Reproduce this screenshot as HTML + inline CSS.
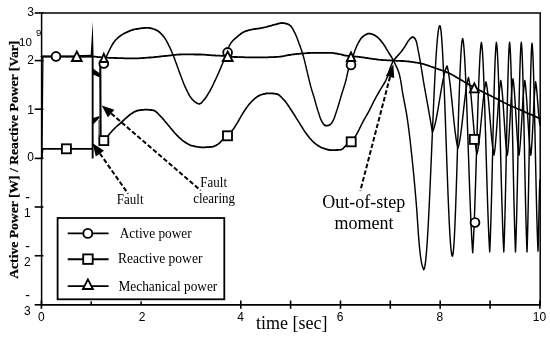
<!DOCTYPE html>
<html><head><meta charset="utf-8"><title>Power swing plot</title>
<style>html,body{margin:0;padding:0;background:#fff}svg{display:block}</style></head>
<body>
<svg width="550" height="338" viewBox="0 0 550 338">
<rect width="550" height="338" fill="#fff"/>
<g transform="scale(0.8,1)" fill="none" stroke="#000" stroke-width="1.8" stroke-linejoin="round" stroke-linecap="round">
<path d="M51.88,56.6 L53.38,56.6 L54.88,56.6 L56.38,56.6 L57.89,56.6 L59.39,56.6 L60.89,56.6 L62.39,56.6 L63.89,56.6 L65.39,56.6 L66.90,56.6 L68.40,56.6 L69.90,56.6 L71.40,56.6 L72.90,56.6 L74.40,56.6 L75.90,56.6 L77.40,56.6 L78.90,56.6 L80.40,56.6 L81.90,56.6 L83.40,56.6 L84.90,56.6 L86.40,56.6 L87.89,56.6 L89.39,56.6 L90.89,56.6 L92.39,56.6 L93.89,56.6 L95.39,56.6 L96.89,56.6 L98.38,56.6 L99.88,56.6 L101.38,56.6 L102.88,56.6 L104.38,56.6 L105.87,56.6 L107.37,56.6 L108.87,56.6 L110.36,56.6 L111.86,56.6 L113.36,56.6 L114.86,56.6 L116.35,56.6 L117.85,56.7 L119.34,56.7 L120.84,56.8 L122.33,57.0 L123.83,57.1 L125.32,57.2 L126.82,57.3 L128.31,57.4 L129.81,57.5 L131.30,57.6 L132.80,57.6 L134.30,57.7 L135.80,57.8 L137.30,57.8 L138.79,57.9 L140.29,57.9 L141.79,57.9 L143.29,58.0 L144.79,58.0 L146.29,58.1 L147.79,58.1 L149.29,58.1 L150.79,58.2 L152.28,58.2 L153.78,58.2 L155.28,58.3 L156.78,58.3 L158.28,58.3 L159.78,58.4 L161.28,58.4 L162.78,58.4 L164.28,58.4 L165.78,58.4 L167.28,58.4 L168.77,58.4 L170.27,58.3 L171.77,58.3 L173.27,58.3 L174.77,58.2 L176.27,58.1 L177.76,58.1 L179.26,58.0 L180.76,57.9 L182.26,57.8 L183.75,57.7 L185.25,57.6 L186.74,57.5 L188.24,57.5 L189.73,57.4 L191.23,57.3 L192.72,57.1 L194.21,57.0 L195.70,56.9 L197.19,56.8 L198.68,56.6 L200.17,56.5 L201.67,56.4 L203.16,56.2 L204.65,56.1 L206.14,56.0 L207.64,55.9 L209.13,55.8 L210.62,55.6 L212.11,55.5 L213.61,55.3 L215.10,55.2 L216.59,55.1 L218.08,54.9 L219.58,54.8 L221.07,54.7 L222.57,54.6 L224.06,54.5 L225.55,54.5 L227.05,54.4 L228.55,54.4 L230.04,54.4 L231.54,54.4 L233.04,54.4 L234.54,54.4 L236.04,54.4 L237.54,54.4 L239.04,54.4 L240.54,54.4 L242.04,54.4 L243.54,54.5 L245.04,54.5 L246.54,54.5 L248.04,54.5 L249.54,54.5 L251.04,54.5 L252.53,54.6 L254.03,54.6 L255.53,54.7 L257.02,54.8 L258.52,54.9 L260.01,55.0 L261.51,55.1 L263.01,55.2 L264.50,55.3 L266.00,55.4 L267.49,55.4 L268.99,55.5 L270.49,55.6 L271.99,55.6 L273.49,55.7 L274.99,55.7 L276.49,55.8 L277.99,55.8 L279.48,55.9 L280.98,55.9 L282.47,56.0 L283.96,56.1 L285.45,56.3 L286.94,56.5 L288.42,56.7 L289.91,56.8 L291.40,56.9 L292.89,57.0 L294.39,57.0 L295.88,57.0 L297.38,57.1 L298.88,57.1 L300.38,57.2 L301.88,57.2 L303.38,57.2 L304.88,57.2 L306.38,57.3 L307.88,57.3 L309.39,57.3 L310.89,57.3 L312.39,57.3 L313.89,57.3 L315.39,57.3 L316.88,57.3 L318.38,57.3 L319.88,57.3 L321.38,57.3 L322.88,57.3 L324.38,57.3 L325.88,57.3 L327.38,57.3 L328.88,57.3 L330.38,57.3 L331.88,57.3 L333.38,57.3 L334.88,57.3 L336.38,57.2 L337.88,57.2 L339.38,57.2 L340.88,57.1 L342.38,57.1 L343.88,57.0 L345.37,56.9 L346.86,56.9 L348.35,56.8 L349.84,56.6 L351.32,56.5 L352.80,56.3 L354.28,56.1 L355.76,55.9 L357.23,55.6 L358.71,55.4 L360.19,55.2 L361.67,55.0 L363.15,54.8 L364.63,54.6 L366.12,54.4 L367.61,54.3 L369.10,54.1 L370.59,54.0 L372.08,53.9 L373.57,53.8 L375.07,53.7 L376.56,53.6 L378.06,53.5 L379.55,53.4 L381.05,53.3 L382.54,53.2 L384.04,53.1 L385.54,53.0 L387.04,53.0 L388.54,52.9 L390.03,52.9 L391.53,52.8 L393.03,52.8 L394.53,52.8 L396.03,52.8 L397.53,52.8 L399.03,52.8 L400.54,52.8 L402.04,52.8 L403.54,52.8 L405.04,52.8 L406.54,52.8 L408.04,52.8 L409.54,52.8 L411.03,52.8 L412.52,52.8 L414.01,52.8 L415.50,52.9 L416.99,53.1 L418.47,53.3 L419.96,53.5 L421.44,53.7 L422.92,54.0 L424.39,54.2 L425.86,54.4 L427.33,54.7 L428.79,55.0 L430.25,55.3 L431.72,55.5 L433.20,55.6 L434.69,55.8 L436.18,56.0 L437.67,56.1 L439.16,56.2 L440.65,56.4 L442.14,56.5 L443.64,56.6 L445.14,56.7 L446.63,56.7 L448.12,56.9 L449.62,57.0 L451.10,57.1 L452.59,57.3 L454.07,57.4 L455.55,57.6 L457.04,57.8 L458.52,58.0 L460.00,58.2 L461.48,58.4 L462.96,58.6 L464.45,58.7 L465.93,58.9 L467.42,59.1 L468.91,59.2 L470.39,59.4 L471.88,59.5 L473.37,59.7 L474.86,59.8 L476.35,59.9 L477.85,60.0 L479.34,60.1 L480.84,60.1 L482.34,60.2 L483.83,60.3 L485.33,60.3 L486.83,60.4 L488.33,60.4 L489.83,60.5 L491.33,60.6 L492.82,60.6 L494.32,60.7 L495.82,60.8 L497.32,60.8 L498.82,60.9 L500.32,60.9 L501.82,61.0 L503.31,61.0 L504.81,61.1 L506.30,61.2 L507.80,61.3 L509.29,61.4 L510.79,61.5 L512.28,61.6 L513.78,61.8 L515.27,61.9 L516.77,62.1 L518.25,62.3 L519.73,62.5 L521.21,62.6 L522.68,62.8 L524.14,63.1 L525.60,63.3 L527.05,63.6 L528.49,63.9 L529.93,64.2 L531.36,64.6 L532.79,64.9 L534.22,65.3 L535.65,65.7 L537.07,66.1 L538.49,66.5 L539.91,66.9 L541.33,67.3 L542.75,67.7 L544.17,68.1 L545.59,68.5 L547.01,68.9 L548.44,69.3 L549.86,69.7 L551.29,70.1 L552.71,70.5 L554.12,70.9 L555.52,71.3 L556.92,71.7 L558.31,72.2 L559.68,72.6 L561.04,73.1 L562.39,73.6 L563.72,74.1 L565.05,74.7 L566.36,75.3 L567.67,75.9 L568.97,76.5 L570.27,77.1 L571.56,77.7 L572.85,78.3 L574.15,78.9 L575.44,79.5 L576.74,80.2 L578.04,80.7 L579.34,81.3 L580.64,82.0 L581.93,82.6 L583.22,83.2 L584.51,83.8 L585.81,84.4 L587.10,85.0 L588.40,85.6 L589.69,86.2 L591.00,86.8 L592.31,87.4 L593.62,87.9 L594.95,88.5 L596.27,89.1 L597.61,89.6 L598.95,90.1 L600.29,90.7 L601.63,91.2 L602.98,91.7 L604.33,92.3 L605.68,92.8 L607.04,93.3 L608.39,93.8 L609.74,94.3 L611.09,94.9 L612.44,95.4 L613.79,95.9 L615.13,96.5 L616.47,97.0 L617.81,97.5 L619.14,98.1 L620.48,98.6 L621.81,99.2 L623.14,99.7 L624.48,100.3 L625.81,100.8 L627.14,101.4 L628.48,101.9 L629.82,102.5 L631.16,103.0 L632.51,103.5 L633.86,104.0 L635.21,104.6 L636.57,105.1 L637.94,105.6 L639.30,106.1 L640.67,106.5 L642.04,107.0 L643.41,107.5 L644.78,108.0 L646.16,108.5 L647.53,109.0 L648.91,109.4 L650.29,109.9 L651.66,110.4 L653.04,110.9 L654.41,111.4 L655.78,111.8 L657.16,112.3 L658.53,112.8 L659.90,113.3 L661.27,113.8 L662.64,114.3 L664.02,114.7 L665.39,115.2 L666.76,115.7 L668.13,116.2 L669.51,116.7 L670.88,117.2 L672.25,117.6 L673.63,118.1 L675.00,118.6"/>
<path d="M129.75,62.0 L130.37,60.9 L130.99,59.8 L131.62,58.7 L132.26,57.6 L132.91,56.6 L133.57,55.5 L134.24,54.4 L134.91,53.3 L135.58,52.2 L136.24,51.1 L136.90,50.0 L137.57,48.9 L138.25,47.8 L138.94,46.7 L139.66,45.7 L140.40,44.6 L141.17,43.6 L141.97,42.6 L142.82,41.7 L143.71,40.8 L144.67,39.9 L145.70,39.1 L146.80,38.2 L147.95,37.4 L149.15,36.6 L150.37,35.9 L151.63,35.2 L152.89,34.5 L154.16,33.9 L155.44,33.4 L156.75,32.8 L158.10,32.3 L159.47,31.8 L160.88,31.3 L162.30,30.8 L163.73,30.4 L165.18,30.0 L166.63,29.7 L168.08,29.4 L169.53,29.2 L170.99,29.0 L172.46,28.8 L173.95,28.6 L175.45,28.4 L176.95,28.2 L178.46,28.1 L179.96,28.0 L181.46,27.9 L182.95,27.8 L184.43,27.8 L185.92,27.9 L187.43,28.0 L188.94,28.3 L190.44,28.6 L191.90,29.0 L193.32,29.4 L194.67,29.9 L195.95,30.3 L197.20,30.9 L198.42,31.6 L199.60,32.3 L200.74,33.2 L201.84,34.1 L202.89,35.0 L203.88,36.0 L204.80,36.9 L205.67,37.8 L206.50,38.8 L207.29,39.8 L208.06,40.8 L208.79,41.9 L209.51,43.0 L210.20,44.1 L210.87,45.2 L211.54,46.2 L212.19,47.3 L212.83,48.4 L213.45,49.5 L214.05,50.6 L214.63,51.7 L215.21,52.8 L215.77,53.9 L216.33,55.0 L216.88,56.2 L217.44,57.3 L217.98,58.4 L218.52,59.5 L219.05,60.6 L219.57,61.8 L220.08,62.9 L220.59,64.0 L221.10,65.1 L221.60,66.3 L222.11,67.4 L222.61,68.5 L223.12,69.7 L223.64,70.8 L224.16,71.9 L224.68,73.0 L225.22,74.2 L225.75,75.3 L226.27,76.4 L226.80,77.5 L227.33,78.7 L227.85,79.8 L228.39,80.9 L228.93,82.0 L229.48,83.2 L230.04,84.3 L230.62,85.4 L231.21,86.5 L231.82,87.6 L232.46,88.6 L233.10,89.7 L233.76,90.8 L234.44,91.9 L235.13,93.0 L235.85,94.1 L236.60,95.1 L237.38,96.2 L238.20,97.2 L239.06,98.1 L239.96,99.0 L240.96,99.9 L242.04,100.8 L243.20,101.6 L244.41,102.3 L245.66,102.9 L247.06,103.5 L248.51,103.9 L249.80,103.8 L251.04,103.2 L252.23,102.4 L253.35,101.4 L254.39,100.4 L255.36,99.5 L256.29,98.6 L257.18,97.6 L258.04,96.6 L258.86,95.6 L259.66,94.6 L260.44,93.5 L261.21,92.5 L261.96,91.5 L262.70,90.4 L263.42,89.4 L264.12,88.3 L264.80,87.2 L265.47,86.2 L266.13,85.1 L266.78,84.0 L267.43,82.9 L268.07,81.8 L268.70,80.7 L269.34,79.7 L269.98,78.6 L270.61,77.5 L271.23,76.4 L271.85,75.3 L272.47,74.2 L273.08,73.1 L273.69,72.0 L274.29,70.9 L274.88,69.8 L275.47,68.7 L276.06,67.6 L276.65,66.5 L277.22,65.4 L277.80,64.3 L278.37,63.2 L278.93,62.1 L279.49,61.0 L280.04,59.8 L280.60,58.7 L281.14,57.6 L281.69,56.5 L282.23,55.4 L282.77,54.2 L283.31,53.1 L283.84,52.0 L284.33,50.9 L284.81,49.7 L285.30,48.6 L285.82,47.4 L286.38,46.3 L287.02,45.3 L287.74,44.2 L288.55,43.2 L289.42,42.2 L290.34,41.3 L291.32,40.4 L292.40,39.6 L293.53,38.8 L294.70,38.0 L295.87,37.2 L297.02,36.4 L298.18,35.6 L299.34,34.9 L300.53,34.1 L301.74,33.4 L302.98,32.7 L304.25,32.1 L305.58,31.7 L306.96,31.2 L308.38,30.8 L309.83,30.5 L311.30,30.1 L312.76,29.8 L314.22,29.6 L315.68,29.4 L317.16,29.2 L318.64,29.0 L320.13,28.8 L321.62,28.6 L323.11,28.5 L324.60,28.3 L326.09,28.1 L327.56,27.9 L329.03,27.7 L330.49,27.4 L331.95,27.2 L333.40,26.9 L334.85,26.5 L336.30,26.2 L337.74,25.9 L339.19,25.6 L340.63,25.2 L342.08,24.9 L343.53,24.6 L344.97,24.3 L346.42,24.0 L347.87,23.7 L349.33,23.4 L350.81,23.1 L352.29,23.0 L353.79,23.1 L355.29,23.2 L356.76,23.5 L358.21,23.7 L359.68,24.2 L361.09,24.7 L362.32,25.3 L363.34,26.0 L364.28,26.9 L365.14,27.8 L365.95,28.9 L366.70,30.0 L367.42,31.2 L368.10,32.3 L368.77,33.3 L369.40,34.4 L370.00,35.5 L370.59,36.6 L371.15,37.7 L371.69,38.8 L372.22,40.0 L372.75,41.1 L373.26,42.2 L373.78,43.4 L374.29,44.5 L374.81,45.6 L375.32,46.7 L375.83,47.9 L376.33,49.0 L376.82,50.1 L377.30,51.3 L377.76,52.4 L378.21,53.6 L378.65,54.7 L379.06,55.9 L379.46,57.0 L379.85,58.2 L380.23,59.3 L380.60,60.5 L380.96,61.7 L381.31,62.8 L381.66,64.0 L382.01,65.2 L382.35,66.3 L382.69,67.5 L383.03,68.7 L383.37,69.8 L383.72,71.0 L384.07,72.2 L384.42,73.3 L384.78,74.5 L385.14,75.7 L385.49,76.8 L385.85,78.0 L386.20,79.2 L386.55,80.3 L386.90,81.5 L387.26,82.7 L387.63,83.8 L388.00,85.0 L388.38,86.2 L388.76,87.3 L389.17,88.5 L389.59,89.6 L390.03,90.8 L390.48,91.9 L390.93,93.1 L391.38,94.2 L391.82,95.4 L392.24,96.5 L392.66,97.7 L393.07,98.8 L393.48,100.0 L393.88,101.1 L394.28,102.3 L394.68,103.4 L395.08,104.6 L395.50,105.7 L395.91,106.9 L396.34,108.0 L396.78,109.2 L397.23,110.3 L397.69,111.5 L398.15,112.6 L398.60,113.8 L399.06,115.0 L399.53,116.2 L400.02,117.3 L400.55,118.4 L401.12,119.5 L401.74,120.6 L402.42,121.6 L403.22,122.7 L404.16,123.8 L405.23,124.8 L406.39,125.5 L407.64,125.7 L409.15,125.6 L410.70,125.3 L412.01,124.9 L413.23,124.2 L414.31,123.2 L415.18,122.3 L415.91,121.3 L416.58,120.3 L417.20,119.2 L417.76,118.1 L418.29,117.0 L418.79,115.8 L419.28,114.6 L419.75,113.4 L420.22,112.3 L420.70,111.1 L421.19,110.0 L421.66,108.8 L422.12,107.7 L422.56,106.6 L423.00,105.4 L423.42,104.3 L423.85,103.1 L424.27,101.9 L424.68,100.8 L425.10,99.6 L425.52,98.5 L425.94,97.3 L426.37,96.2 L426.80,95.0 L427.24,93.9 L427.69,92.7 L428.14,91.6 L428.60,90.5 L429.05,89.3 L429.50,88.2 L429.95,87.0 L430.39,85.9 L430.83,84.7 L431.25,83.6 L431.67,82.4 L432.07,81.3 L432.46,80.1 L432.83,78.9 L433.18,77.8 L433.50,76.6 L433.82,75.4 L434.13,74.3 L434.44,73.1 L434.76,71.9 L435.10,70.7 L435.46,69.6 L435.85,68.4 L436.28,67.3 L436.76,66.1 L437.29,65.0 L437.83,63.9 L438.38,62.8 L438.91,61.7 L439.42,60.5 L439.92,59.4 L440.41,58.2 L440.89,57.1 L441.37,55.9 L441.85,54.8 L442.34,53.6 L442.83,52.5 L443.33,51.4 L443.84,50.2 L444.37,49.1 L444.92,48.0 L445.49,46.9 L446.09,45.8 L446.72,44.7 L447.38,43.7 L448.07,42.6 L448.82,41.6 L449.63,40.5 L450.48,39.4 L451.39,38.4 L452.35,37.5 L453.38,36.7 L454.48,36.1 L455.73,35.3 L457.09,34.7 L458.52,34.1 L459.96,33.7 L461.38,33.6 L462.82,33.7 L464.31,34.0 L465.79,34.4 L467.23,34.9 L468.56,35.4 L469.78,36.0 L470.96,36.6 L472.10,37.4 L473.21,38.2 L474.28,39.1 L475.31,40.0 L476.31,41.0 L477.28,42.0 L478.22,42.9 L479.12,43.9 L479.98,44.9 L480.80,45.8 L481.59,46.9 L482.36,47.9 L483.12,49.0 L483.88,50.0 L484.65,51.0 L485.43,52.1 L486.24,53.1 L487.05,54.1 L487.86,55.1 L488.66,56.1 L489.45,57.1 L490.22,58.2 L490.96,59.2 L491.66,60.3 L492.34,61.3 L493.01,62.4 L493.68,63.5 L494.35,64.6 L495.00,65.7 L495.64,66.8 L496.26,67.9 L496.85,69.0 L497.41,70.1 L497.94,71.2 L498.42,72.4 L498.87,73.5 L499.26,74.6 L499.61,75.8 L499.94,76.9 L500.25,78.1 L500.55,79.3 L500.82,80.4 L501.08,81.6 L501.33,82.8 L501.58,84.0 L501.81,85.2 L502.04,86.4 L502.26,87.6 L502.49,88.8 L502.71,90.0 L502.95,91.1 L503.18,92.3 L503.43,93.5 L503.69,94.7 L503.95,95.9 L504.23,97.1 L504.51,98.3 L504.79,99.4 L505.07,100.6 L505.36,101.8 L505.65,103.0 L505.94,104.1 L506.23,105.3 L506.51,106.5 L506.80,107.7 L507.08,108.9 L507.35,110.0 L507.62,111.2 L507.88,112.4 L508.13,113.6 L508.37,114.8 L508.61,115.9 L508.83,117.1 L509.05,118.3 L509.26,119.5 L509.48,120.7 L509.68,121.9 L509.89,123.1 L510.10,124.2 L510.30,125.4 L510.50,126.6 L510.69,127.8 L510.89,129.0 L511.08,130.2 L511.27,131.4 L511.45,132.6 L511.64,133.8 L511.82,135.0 L512.00,136.1 L512.18,137.3 L512.36,138.5 L512.54,139.7 L512.71,140.9 L512.88,142.1 L513.05,143.3 L513.22,144.5 L513.39,145.7 L513.55,146.9 L513.72,148.1 L513.88,149.3 L514.04,150.5 L514.20,151.7 L514.37,152.8 L514.52,154.0 L514.68,155.2 L514.84,156.4 L515.00,157.6 L515.15,158.8 L515.31,160.0 L515.46,161.2 L515.62,162.4 L515.77,163.6 L515.92,164.8 L516.08,166.0 L516.23,167.2 L516.38,168.4 L516.52,169.6 L516.67,170.7 L516.82,171.9 L516.96,173.1 L517.11,174.3 L517.25,175.5 L517.39,176.7 L517.53,177.9 L517.67,179.1 L517.81,180.3 L517.94,181.5 L518.08,182.7 L518.22,183.9 L518.35,185.1 L518.48,186.3 L518.62,187.5 L518.75,188.7 L518.88,189.9 L519.01,191.1 L519.14,192.3 L519.27,193.4 L519.40,194.6 L519.52,195.8 L519.65,197.0 L519.77,198.2 L519.90,199.4 L520.03,200.6 L520.15,201.8 L520.27,203.0 L520.40,204.2 L520.52,205.4 L520.63,206.6 L520.75,207.8 L520.86,209.0 L520.97,210.2 L521.08,211.4 L521.19,212.6 L521.29,213.8 L521.39,215.0 L521.49,216.2 L521.59,217.4 L521.69,218.6 L521.79,219.8 L521.89,221.0 L521.99,222.2 L522.09,223.4 L522.19,224.6 L522.28,225.8 L522.38,227.0 L522.48,228.2 L522.59,229.3 L522.69,230.5 L522.80,231.7 L522.90,232.9 L523.01,234.1 L523.12,235.3 L523.24,236.5 L523.35,237.7 L523.47,238.9 L523.59,240.1 L523.72,241.3 L523.85,242.5 L523.98,243.7 L524.12,244.9 L524.26,246.1 L524.41,247.3 L524.56,248.5 L524.71,249.7 L524.87,250.9 L525.03,252.1 L525.19,253.3 L525.37,254.5 L525.55,255.7 L525.74,256.8 L525.95,258.0 L526.17,259.2 L526.41,260.4 L526.66,261.6 L526.93,262.8 L527.23,263.9 L527.58,265.1 L528.02,266.2 L528.52,267.3 L529.07,268.5 L529.62,269.6 L529.83,269.3 L530.04,269.1 L530.25,268.8 L530.45,268.4 L530.66,267.8 L530.87,267.1 L531.08,266.3 L531.28,265.3 L531.49,264.3 L531.70,263.1 L531.91,261.8 L532.11,260.3 L532.32,258.8 L532.53,257.1 L532.74,255.3 L532.94,253.4 L533.15,251.4 L533.36,249.3 L533.57,247.1 L533.77,244.7 L533.98,242.3 L534.19,239.8 L534.40,237.1 L534.60,234.4 L534.81,231.6 L535.02,228.7 L535.23,225.7 L535.43,222.7 L535.64,219.5 L535.85,216.3 L536.06,213.0 L536.26,209.6 L536.47,206.2 L536.68,202.7 L536.89,199.2 L537.09,195.6 L537.30,191.9 L537.51,188.2 L537.72,184.5 L537.92,180.7 L538.13,176.9 L538.34,173.1 L538.55,169.2 L538.75,165.3 L538.96,161.4 L539.17,157.5 L539.38,153.5 L539.58,149.6 L539.79,145.6 L540.00,141.7 L540.21,137.7 L540.41,133.8 L540.62,129.9 L540.83,126.0 L541.04,122.1 L541.24,118.3 L541.45,114.5 L541.66,110.7 L541.87,107.0 L542.07,103.3 L542.28,99.6 L542.49,96.0 L542.70,92.5 L542.90,89.0 L543.11,85.6 L543.32,82.2 L543.53,78.9 L543.73,75.7 L543.94,72.5 L544.15,69.5 L544.36,66.5 L544.56,63.6 L544.77,60.8 L544.98,58.1 L545.19,55.4 L545.39,52.9 L545.60,50.5 L545.81,48.1 L546.02,45.9 L546.22,43.8 L546.43,41.8 L546.64,39.9 L546.85,38.1 L547.05,36.4 L547.26,34.9 L547.47,33.4 L547.68,32.1 L547.88,30.9 L548.09,29.9 L548.30,28.9 L548.51,28.1 L548.71,27.4 L548.92,26.8 L549.13,26.4 L549.34,26.1 L549.54,25.9 L549.75,25.8 L549.92,25.9 L550.09,26.1 L550.26,26.4 L550.43,26.9 L550.61,27.5 L550.78,28.2 L550.95,29.1 L551.12,30.1 L551.29,31.2 L551.46,32.4 L551.63,33.8 L551.80,35.3 L551.98,37.0 L552.15,38.7 L552.32,40.6 L552.49,42.6 L552.66,44.7 L552.83,46.9 L553.00,49.2 L553.17,51.6 L553.35,54.1 L553.52,56.8 L553.69,59.5 L553.86,62.3 L554.03,65.3 L554.20,68.3 L554.37,71.4 L554.54,74.5 L554.71,77.8 L554.89,81.1 L555.06,84.5 L555.23,87.9 L555.40,91.5 L555.57,95.0 L555.74,98.7 L555.91,102.4 L556.08,106.1 L556.26,109.8 L556.43,113.6 L556.60,117.5 L556.77,121.3 L556.94,125.2 L557.11,129.1 L557.28,133.0 L557.45,137.0 L557.62,140.9 L557.80,144.8 L557.97,148.8 L558.14,152.7 L558.31,156.6 L558.48,160.5 L558.65,164.3 L558.82,168.2 L558.99,172.0 L559.17,175.7 L559.34,179.4 L559.51,183.1 L559.68,186.8 L559.85,190.3 L560.02,193.9 L560.19,197.3 L560.36,200.7 L560.54,204.0 L560.71,207.3 L560.88,210.4 L561.05,213.5 L561.22,216.5 L561.39,219.5 L561.56,222.3 L561.73,225.0 L561.90,227.7 L562.08,230.2 L562.25,232.6 L562.42,234.9 L562.59,237.1 L562.76,239.2 L562.93,241.2 L563.10,243.1 L563.27,244.8 L563.45,246.5 L563.62,248.0 L563.79,249.4 L563.96,250.6 L564.13,251.7 L564.30,252.7 L564.47,253.6 L564.64,254.3 L564.82,254.9 L564.99,255.4 L565.16,255.7 L565.33,255.9 L565.50,256.0 L565.65,255.9 L565.80,255.7 L565.95,255.3 L566.10,254.8 L566.25,254.2 L566.40,253.4 L566.55,252.5 L566.70,251.4 L566.85,250.2 L567.00,248.8 L567.15,247.3 L567.30,245.7 L567.45,244.0 L567.60,242.1 L567.75,240.1 L567.90,238.0 L568.05,235.7 L568.19,233.3 L568.34,230.9 L568.49,228.3 L568.64,225.6 L568.79,222.8 L568.94,219.9 L569.09,216.9 L569.24,213.8 L569.39,210.6 L569.54,207.3 L569.69,204.0 L569.84,200.5 L569.99,197.0 L570.14,193.5 L570.29,189.8 L570.44,186.2 L570.59,182.4 L570.74,178.7 L570.89,174.8 L571.04,171.0 L571.19,167.1 L571.34,163.2 L571.49,159.2 L571.64,155.3 L571.79,151.3 L571.94,147.4 L572.09,143.4 L572.24,139.4 L572.39,135.5 L572.54,131.5 L572.69,127.6 L572.84,123.7 L572.99,119.9 L573.14,116.0 L573.28,112.3 L573.43,108.5 L573.58,104.9 L573.73,101.2 L573.88,97.7 L574.03,94.2 L574.18,90.7 L574.33,87.4 L574.48,84.1 L574.63,80.9 L574.78,77.8 L574.93,74.8 L575.08,71.9 L575.23,69.1 L575.38,66.4 L575.53,63.8 L575.68,61.4 L575.83,59.0 L575.98,56.7 L576.13,54.6 L576.28,52.6 L576.43,50.7 L576.58,49.0 L576.73,47.4 L576.88,45.9 L577.03,44.5 L577.18,43.3 L577.33,42.2 L577.48,41.3 L577.63,40.5 L577.78,39.9 L577.93,39.4 L578.08,39.0 L578.23,38.8 L578.38,38.7 L578.52,39.1 L578.67,39.5 L578.82,40.1 L578.96,40.8 L579.11,41.5 L579.26,42.4 L579.40,43.4 L579.55,44.5 L579.70,45.7 L579.85,47.0 L579.99,48.4 L580.14,49.9 L580.29,51.5 L580.43,53.2 L580.58,55.0 L580.73,56.9 L580.88,58.8 L581.02,60.9 L581.17,63.0 L581.32,65.3 L581.46,67.6 L581.61,70.0 L581.76,72.5 L581.90,75.0 L582.05,77.6 L582.20,80.3 L582.35,83.1 L582.49,85.9 L582.64,88.8 L582.79,91.8 L582.93,94.8 L583.08,97.8 L583.23,101.0 L583.38,104.1 L583.52,107.3 L583.67,110.6 L583.82,113.8 L583.96,117.2 L584.11,120.5 L584.26,123.9 L584.40,127.3 L584.55,130.7 L584.70,134.1 L584.85,137.6 L584.99,141.0 L585.14,144.5 L585.29,148.0 L585.43,151.4 L585.58,154.9 L585.73,158.4 L585.88,161.8 L586.02,165.2 L586.17,168.7 L586.32,172.1 L586.46,175.4 L586.61,178.8 L586.76,182.1 L586.90,185.4 L587.05,188.7 L587.20,191.9 L587.35,195.0 L587.49,198.2 L587.64,201.3 L587.79,204.3 L587.93,207.3 L588.08,210.2 L588.23,213.1 L588.38,215.9 L588.52,218.6 L588.67,221.3 L588.82,223.9 L588.96,226.5 L589.11,228.9 L589.26,231.4 L589.40,233.7 L589.55,236.0 L589.70,238.1 L589.85,240.2 L589.99,242.3 L590.14,244.2 L590.29,246.1 L590.43,247.9 L590.58,249.6 L590.73,251.2 L590.88,252.7 L591.00,251.2 L591.13,249.6 L591.26,247.9 L591.39,246.1 L591.52,244.2 L591.65,242.3 L591.78,240.3 L591.91,238.2 L592.04,236.0 L592.17,233.8 L592.30,231.4 L592.43,229.0 L592.56,226.6 L592.69,224.0 L592.82,221.4 L592.95,218.7 L593.08,216.0 L593.21,213.2 L593.33,210.3 L593.46,207.4 L593.59,204.4 L593.72,201.4 L593.85,198.3 L593.98,195.2 L594.11,192.0 L594.24,188.8 L594.37,185.6 L594.50,182.3 L594.63,179.0 L594.76,175.6 L594.89,172.3 L595.02,168.9 L595.15,165.5 L595.28,162.1 L595.41,158.6 L595.54,155.2 L595.67,151.7 L595.79,148.3 L595.92,144.8 L596.05,141.4 L596.18,138.0 L596.31,134.5 L596.44,131.1 L596.57,127.7 L596.70,124.4 L596.83,121.0 L596.96,117.7 L597.09,114.5 L597.22,111.2 L597.35,108.0 L597.48,104.9 L597.61,101.8 L597.74,98.7 L597.87,95.7 L598.00,92.7 L598.12,89.8 L598.25,87.0 L598.38,84.2 L598.51,81.5 L598.64,78.9 L598.77,76.3 L598.90,73.9 L599.03,71.5 L599.16,69.1 L599.29,66.9 L599.42,64.7 L599.55,62.7 L599.68,60.7 L599.81,58.8 L599.94,57.0 L600.07,55.3 L600.20,53.7 L600.33,52.2 L600.46,50.8 L600.58,49.5 L600.71,48.3 L600.84,47.2 L600.97,46.2 L601.10,45.3 L601.23,44.6 L601.36,43.9 L601.49,43.3 L601.62,42.9 L601.75,42.5 L601.88,42.9 L602.00,43.3 L602.12,43.9 L602.25,44.6 L602.37,45.4 L602.50,46.3 L602.62,47.3 L602.75,48.4 L602.87,49.6 L603.00,50.9 L603.12,52.4 L603.25,53.9 L603.38,55.5 L603.50,57.3 L603.62,59.1 L603.75,61.0 L603.87,63.0 L604.00,65.1 L604.12,67.3 L604.25,69.6 L604.38,71.9 L604.50,74.4 L604.62,76.9 L604.75,79.5 L604.87,82.2 L605.00,84.9 L605.12,87.7 L605.25,90.6 L605.37,93.5 L605.50,96.5 L605.62,99.6 L605.75,102.7 L605.88,105.8 L606.00,109.0 L606.12,112.3 L606.25,115.6 L606.37,118.9 L606.50,122.2 L606.62,125.6 L606.75,129.0 L606.88,132.4 L607.00,135.9 L607.12,139.3 L607.25,142.8 L607.37,146.3 L607.50,149.7 L607.62,153.2 L607.75,156.7 L607.88,160.1 L608.00,163.6 L608.12,167.0 L608.25,170.5 L608.38,173.9 L608.50,177.2 L608.62,180.6 L608.75,183.9 L608.87,187.2 L609.00,190.4 L609.12,193.6 L609.25,196.8 L609.38,199.9 L609.50,203.0 L609.62,206.0 L609.75,208.9 L609.87,211.8 L610.00,214.7 L610.12,217.4 L610.25,220.2 L610.38,222.8 L610.50,225.4 L610.62,227.9 L610.75,230.3 L610.88,232.7 L611.00,234.9 L611.12,237.1 L611.25,239.3 L611.37,241.3 L611.50,243.3 L611.62,245.1 L611.75,246.9 L611.88,248.6 L612.00,250.3 L612.12,251.8 L612.23,250.3 L612.33,248.6 L612.43,246.9 L612.53,245.1 L612.63,243.3 L612.73,241.3 L612.83,239.3 L612.93,237.1 L613.03,234.9 L613.13,232.7 L613.23,230.3 L613.34,227.9 L613.44,225.4 L613.54,222.8 L613.64,220.2 L613.74,217.4 L613.84,214.7 L613.94,211.8 L614.04,208.9 L614.14,206.0 L614.24,203.0 L614.34,199.9 L614.45,196.8 L614.55,193.6 L614.65,190.4 L614.75,187.2 L614.85,183.9 L614.95,180.6 L615.05,177.2 L615.15,173.9 L615.25,170.5 L615.35,167.0 L615.45,163.6 L615.56,160.1 L615.66,156.7 L615.76,153.2 L615.86,149.7 L615.96,146.3 L616.06,142.8 L616.16,139.3 L616.26,135.9 L616.36,132.4 L616.46,129.0 L616.56,125.6 L616.67,122.2 L616.77,118.9 L616.87,115.6 L616.97,112.3 L617.07,109.0 L617.17,105.8 L617.27,102.7 L617.37,99.6 L617.47,96.5 L617.57,93.5 L617.67,90.6 L617.78,87.7 L617.88,84.9 L617.98,82.2 L618.08,79.5 L618.18,76.9 L618.28,74.4 L618.38,71.9 L618.48,69.6 L618.58,67.3 L618.68,65.1 L618.78,63.0 L618.89,61.0 L618.99,59.1 L619.09,57.3 L619.19,55.5 L619.29,53.9 L619.39,52.4 L619.49,50.9 L619.59,49.6 L619.69,48.4 L619.79,47.3 L619.89,46.3 L620.00,45.4 L620.10,44.6 L620.20,43.9 L620.30,43.3 L620.40,42.9 L620.50,42.5 L620.61,42.9 L620.72,43.3 L620.83,43.9 L620.95,44.6 L621.06,45.4 L621.17,46.3 L621.28,47.3 L621.39,48.4 L621.50,49.6 L621.61,50.9 L621.73,52.4 L621.84,53.9 L621.95,55.5 L622.06,57.3 L622.17,59.1 L622.28,61.0 L622.39,63.0 L622.51,65.1 L622.62,67.3 L622.73,69.6 L622.84,71.9 L622.95,74.4 L623.06,76.9 L623.17,79.5 L623.29,82.2 L623.40,84.9 L623.51,87.7 L623.62,90.6 L623.73,93.5 L623.84,96.5 L623.95,99.6 L624.07,102.7 L624.18,105.8 L624.29,109.0 L624.40,112.3 L624.51,115.6 L624.62,118.9 L624.73,122.2 L624.85,125.6 L624.96,129.0 L625.07,132.4 L625.18,135.9 L625.29,139.3 L625.40,142.8 L625.52,146.3 L625.63,149.7 L625.74,153.2 L625.85,156.7 L625.96,160.1 L626.07,163.6 L626.18,167.0 L626.30,170.5 L626.41,173.9 L626.52,177.2 L626.63,180.6 L626.74,183.9 L626.85,187.2 L626.96,190.4 L627.08,193.6 L627.19,196.8 L627.30,199.9 L627.41,203.0 L627.52,206.0 L627.63,208.9 L627.74,211.8 L627.86,214.7 L627.97,217.4 L628.08,220.2 L628.19,222.8 L628.30,225.4 L628.41,227.9 L628.52,230.3 L628.64,232.7 L628.75,234.9 L628.86,237.1 L628.97,239.3 L629.08,241.3 L629.19,243.3 L629.30,245.1 L629.42,246.9 L629.53,248.6 L629.64,250.3 L629.75,251.8 L629.84,250.3 L629.92,248.6 L630.01,246.9 L630.10,245.1 L630.19,243.3 L630.27,241.3 L630.36,239.3 L630.45,237.1 L630.54,234.9 L630.62,232.7 L630.71,230.3 L630.80,227.9 L630.89,225.4 L630.97,222.8 L631.06,220.2 L631.15,217.4 L631.23,214.7 L631.32,211.8 L631.41,208.9 L631.50,206.0 L631.58,203.0 L631.67,199.9 L631.76,196.8 L631.85,193.6 L631.93,190.4 L632.02,187.2 L632.11,183.9 L632.20,180.6 L632.28,177.2 L632.37,173.9 L632.46,170.5 L632.55,167.0 L632.63,163.6 L632.72,160.1 L632.81,156.7 L632.89,153.2 L632.98,149.7 L633.07,146.3 L633.16,142.8 L633.24,139.3 L633.33,135.9 L633.42,132.4 L633.51,129.0 L633.59,125.6 L633.68,122.2 L633.77,118.9 L633.86,115.6 L633.94,112.3 L634.03,109.0 L634.12,105.8 L634.20,102.7 L634.29,99.6 L634.38,96.5 L634.47,93.5 L634.55,90.6 L634.64,87.7 L634.73,84.9 L634.82,82.2 L634.90,79.5 L634.99,76.9 L635.08,74.4 L635.17,71.9 L635.25,69.6 L635.34,67.3 L635.43,65.1 L635.52,63.0 L635.60,61.0 L635.69,59.1 L635.78,57.3 L635.86,55.5 L635.95,53.9 L636.04,52.4 L636.13,50.9 L636.21,49.6 L636.30,48.4 L636.39,47.3 L636.48,46.3 L636.56,45.4 L636.65,44.6 L636.74,43.9 L636.83,43.3 L636.91,42.9 L637.00,42.5 L637.09,42.9 L637.18,43.3 L637.27,43.9 L637.36,44.6 L637.44,45.4 L637.53,46.3 L637.62,47.3 L637.71,48.4 L637.80,49.6 L637.89,50.9 L637.98,52.4 L638.07,53.9 L638.16,55.5 L638.24,57.3 L638.33,59.1 L638.42,61.0 L638.51,63.0 L638.60,65.1 L638.69,67.3 L638.78,69.6 L638.87,71.9 L638.95,74.4 L639.04,76.9 L639.13,79.5 L639.22,82.2 L639.31,84.9 L639.40,87.7 L639.49,90.6 L639.58,93.5 L639.67,96.5 L639.75,99.6 L639.84,102.7 L639.93,105.8 L640.02,109.0 L640.11,112.3 L640.20,115.6 L640.29,118.9 L640.38,122.2 L640.47,125.6 L640.55,129.0 L640.64,132.4 L640.73,135.9 L640.82,139.3 L640.91,142.8 L641.00,146.3 L641.09,149.7 L641.18,153.2 L641.27,156.7 L641.35,160.1 L641.44,163.6 L641.53,167.0 L641.62,170.5 L641.71,173.9 L641.80,177.2 L641.89,180.6 L641.98,183.9 L642.06,187.2 L642.15,190.4 L642.24,193.6 L642.33,196.8 L642.42,199.9 L642.51,203.0 L642.60,206.0 L642.69,208.9 L642.78,211.8 L642.86,214.7 L642.95,217.4 L643.04,220.2 L643.13,222.8 L643.22,225.4 L643.31,227.9 L643.40,230.3 L643.49,232.7 L643.58,234.9 L643.66,237.1 L643.75,239.3 L643.84,241.3 L643.93,243.3 L644.02,245.1 L644.11,246.9 L644.20,248.6 L644.29,250.3 L644.38,251.8 L644.46,250.3 L644.55,248.6 L644.64,246.9 L644.72,245.1 L644.81,243.3 L644.90,241.3 L644.99,239.3 L645.07,237.1 L645.16,234.9 L645.25,232.7 L645.34,230.3 L645.42,227.9 L645.51,225.4 L645.60,222.8 L645.69,220.2 L645.77,217.4 L645.86,214.7 L645.95,211.8 L646.03,208.9 L646.12,206.0 L646.21,203.0 L646.30,199.9 L646.38,196.8 L646.47,193.6 L646.56,190.4 L646.65,187.2 L646.73,183.9 L646.82,180.6 L646.91,177.2 L647.00,173.9 L647.08,170.5 L647.17,167.0 L647.26,163.6 L647.34,160.1 L647.43,156.7 L647.52,153.2 L647.61,149.7 L647.69,146.3 L647.78,142.8 L647.87,139.3 L647.96,135.9 L648.04,132.4 L648.13,129.0 L648.22,125.6 L648.31,122.2 L648.39,118.9 L648.48,115.6 L648.57,112.3 L648.66,109.0 L648.74,105.8 L648.83,102.7 L648.92,99.6 L649.00,96.5 L649.09,93.5 L649.18,90.6 L649.27,87.7 L649.35,84.9 L649.44,82.2 L649.53,79.5 L649.62,76.9 L649.70,74.4 L649.79,71.9 L649.88,69.6 L649.97,67.3 L650.05,65.1 L650.14,63.0 L650.23,61.0 L650.31,59.1 L650.40,57.3 L650.49,55.5 L650.58,53.9 L650.66,52.4 L650.75,50.9 L650.84,49.6 L650.93,48.4 L651.01,47.3 L651.10,46.3 L651.19,45.4 L651.28,44.6 L651.36,43.9 L651.45,43.3 L651.54,42.9 L651.62,42.5 L651.71,42.9 L651.80,43.3 L651.88,43.9 L651.97,44.6 L652.05,45.4 L652.14,46.3 L652.23,47.3 L652.31,48.4 L652.40,49.6 L652.48,50.9 L652.57,52.4 L652.66,53.9 L652.74,55.5 L652.83,57.3 L652.91,59.1 L653.00,61.0 L653.08,63.0 L653.17,65.1 L653.26,67.3 L653.34,69.6 L653.43,71.9 L653.51,74.4 L653.60,76.9 L653.69,79.5 L653.77,82.2 L653.86,84.9 L653.94,87.7 L654.03,90.6 L654.11,93.5 L654.20,96.5 L654.29,99.6 L654.37,102.7 L654.46,105.8 L654.54,109.0 L654.63,112.3 L654.72,115.6 L654.80,118.9 L654.89,122.2 L654.97,125.6 L655.06,129.0 L655.14,132.4 L655.23,135.9 L655.32,139.3 L655.40,142.8 L655.49,146.3 L655.57,149.7 L655.66,153.2 L655.75,156.7 L655.83,160.1 L655.92,163.6 L656.00,167.0 L656.09,170.5 L656.17,173.9 L656.26,177.2 L656.35,180.6 L656.43,183.9 L656.52,187.2 L656.60,190.4 L656.69,193.6 L656.78,196.8 L656.86,199.9 L656.95,203.0 L657.03,206.0 L657.12,208.9 L657.20,211.8 L657.29,214.7 L657.38,217.4 L657.46,220.2 L657.55,222.8 L657.63,225.4 L657.72,227.9 L657.81,230.3 L657.89,232.7 L657.98,234.9 L658.06,237.1 L658.15,239.3 L658.23,241.3 L658.32,243.3 L658.41,245.1 L658.49,246.9 L658.58,248.6 L658.66,250.3 L658.75,251.8 L658.83,250.3 L658.90,248.7 L658.98,247.0 L659.05,245.2 L659.13,243.3 L659.20,241.4 L659.28,239.3 L659.35,237.2 L659.43,235.0 L659.50,232.7 L659.58,230.4 L659.65,228.0 L659.73,225.5 L659.80,222.9 L659.88,220.3 L659.95,217.6 L660.03,214.8 L660.11,212.0 L660.18,209.1 L660.26,206.2 L660.33,203.2 L660.41,200.1 L660.48,197.0 L660.56,193.9 L660.63,190.7 L660.71,187.5 L660.78,184.2 L660.86,180.9 L660.93,177.5 L661.01,174.2 L661.08,170.8 L661.16,167.4 L661.23,164.0 L661.31,160.5 L661.39,157.1 L661.46,153.6 L661.54,150.2 L661.61,146.7 L661.69,143.3 L661.76,139.8 L661.84,136.4 L661.91,132.9 L661.99,129.5 L662.06,126.1 L662.14,122.8 L662.21,119.5 L662.29,116.1 L662.36,112.9 L662.44,109.7 L662.52,106.5 L662.59,103.3 L662.67,100.2 L662.74,97.2 L662.82,94.2 L662.89,91.3 L662.97,88.4 L663.04,85.6 L663.12,82.9 L663.19,80.2 L663.27,77.7 L663.34,75.1 L663.42,72.7 L663.49,70.4 L663.57,68.1 L663.64,65.9 L663.72,63.8 L663.80,61.8 L663.87,59.9 L663.95,58.1 L664.02,56.4 L664.10,54.7 L664.17,53.2 L664.25,51.8 L664.32,50.5 L664.40,49.3 L664.47,48.2 L664.55,47.2 L664.62,46.3 L664.70,45.5 L664.77,44.8 L664.85,44.2 L664.92,43.8 L665.00,43.4 L665.09,43.8 L665.18,44.2 L665.27,44.8 L665.36,45.5 L665.45,46.3 L665.54,47.1 L665.63,48.1 L665.72,49.3 L665.81,50.5 L665.90,51.8 L665.99,53.2 L666.08,54.7 L666.17,56.3 L666.27,58.0 L666.36,59.8 L666.45,61.7 L666.54,63.7 L666.63,65.8 L666.72,68.0 L666.81,70.3 L666.90,72.6 L666.99,75.0 L667.08,77.5 L667.17,80.1 L667.26,82.7 L667.35,85.5 L667.44,88.3 L667.53,91.1 L667.62,94.0 L667.71,97.0 L667.80,100.0 L667.89,103.1 L667.98,106.2 L668.07,109.4 L668.16,112.6 L668.25,115.9 L668.34,119.2 L668.43,122.5 L668.52,125.8 L668.61,129.2 L668.70,132.6 L668.80,136.0 L668.89,139.4 L668.98,142.9 L669.07,146.3 L669.16,149.8 L669.25,153.2 L669.34,156.7 L669.43,160.1 L669.52,163.5 L669.61,166.9 L669.70,170.3 L669.79,173.7 L669.88,177.0 L669.97,180.4 L670.06,183.6 L670.15,186.9 L670.24,190.1 L670.33,193.3 L670.42,196.4 L670.51,199.5 L670.60,202.6 L670.69,205.5 L670.78,208.5 L670.87,211.3 L670.96,214.2 L671.05,216.9 L671.14,219.6 L671.23,222.2 L671.33,224.8 L671.42,227.3 L671.51,229.7 L671.60,232.0 L671.69,234.3 L671.78,236.5 L671.87,238.6 L671.96,240.6 L672.05,242.5 L672.14,244.4 L672.23,246.2 L672.32,247.9 L672.41,249.5 L672.50,251.0 L672.59,249.4 L672.68,247.5 L672.77,245.4 L672.86,243.0 L672.95,240.4 L673.04,237.6 L673.12,234.7 L673.21,231.6 L673.30,228.3 L673.39,225.0 L673.48,221.5 L673.57,218.1 L673.66,214.6 L673.75,211.1 L673.84,207.7 L673.93,204.3 L674.02,201.1 L674.11,198.0 L674.20,195.0 L674.29,192.3 L674.38,189.8 L674.46,187.5 L674.55,185.5 L674.64,183.8 L674.73,182.4 L674.82,181.3 L674.91,180.5 L675.00,180.0"/>
<path d="M135.75,135.0 L136.71,134.1 L137.68,133.2 L138.67,132.3 L139.67,131.4 L140.69,130.5 L141.73,129.6 L142.78,128.8 L143.85,127.9 L144.95,127.1 L146.07,126.3 L147.20,125.5 L148.32,124.8 L149.45,124.0 L150.56,123.2 L151.66,122.3 L152.76,121.5 L153.85,120.7 L154.95,119.9 L156.06,119.1 L157.18,118.3 L158.29,117.5 L159.41,116.7 L160.55,115.9 L161.71,115.1 L162.90,114.4 L164.14,113.8 L165.42,113.1 L166.73,112.4 L168.07,111.8 L169.43,111.3 L170.81,110.8 L172.21,110.5 L173.63,110.3 L175.09,110.1 L176.58,110.0 L178.09,109.9 L179.61,109.8 L181.12,109.7 L182.62,109.7 L184.15,109.7 L185.70,109.8 L187.25,109.9 L188.76,110.0 L190.22,110.2 L191.59,110.4 L192.87,110.7 L194.11,111.2 L195.30,111.9 L196.45,112.7 L197.57,113.6 L198.67,114.6 L199.75,115.5 L200.81,116.4 L201.87,117.3 L202.89,118.2 L203.90,119.0 L204.88,119.9 L205.85,120.9 L206.81,121.8 L207.77,122.7 L208.72,123.6 L209.68,124.6 L210.65,125.5 L211.62,126.4 L212.58,127.3 L213.53,128.3 L214.48,129.2 L215.43,130.1 L216.39,131.0 L217.36,132.0 L218.34,132.9 L219.35,133.7 L220.37,134.6 L221.42,135.5 L222.48,136.3 L223.56,137.2 L224.65,138.0 L225.77,138.8 L226.90,139.6 L228.06,140.4 L229.24,141.1 L230.45,141.7 L231.69,142.4 L232.97,143.1 L234.28,143.7 L235.61,144.3 L236.97,144.9 L238.34,145.3 L239.73,145.6 L241.14,145.9 L242.59,146.2 L244.06,146.5 L245.55,146.7 L247.05,146.9 L248.55,147.1 L250.06,147.2 L251.56,147.3 L253.05,147.3 L254.55,147.3 L256.07,147.3 L257.59,147.2 L259.10,147.2 L260.61,147.1 L262.11,147.0 L263.58,146.9 L265.02,146.8 L266.45,146.6 L267.88,146.2 L269.30,145.7 L270.66,145.1 L271.97,144.5 L273.18,143.8 L274.29,143.1 L275.33,142.2 L276.34,141.3 L277.37,140.4 L278.46,139.6 L279.62,138.8 L280.82,138.1 L282.03,137.4 L283.21,136.6 L284.33,135.8 L285.39,135.0 L286.43,134.1 L287.45,133.3 L288.44,132.3 L289.40,131.4 L290.33,130.5 L291.23,129.5 L292.10,128.6 L292.95,127.6 L293.77,126.6 L294.58,125.6 L295.36,124.5 L296.14,123.5 L296.91,122.5 L297.68,121.4 L298.44,120.4 L299.19,119.4 L299.92,118.3 L300.64,117.3 L301.36,116.2 L302.10,115.2 L302.88,114.2 L303.68,113.1 L304.49,112.1 L305.31,111.1 L306.14,110.1 L306.99,109.1 L307.85,108.1 L308.73,107.1 L309.63,106.1 L310.54,105.2 L311.48,104.2 L312.45,103.3 L313.44,102.5 L314.46,101.6 L315.52,100.8 L316.62,100.0 L317.76,99.1 L318.94,98.3 L320.16,97.5 L321.40,96.8 L322.68,96.1 L323.97,95.6 L325.29,95.1 L326.63,94.7 L328.02,94.4 L329.47,94.0 L330.96,93.8 L332.46,93.5 L333.98,93.4 L335.48,93.3 L336.98,93.3 L338.51,93.4 L340.07,93.4 L341.60,93.5 L343.10,93.6 L344.53,93.8 L345.88,94.0 L347.17,94.3 L348.42,94.9 L349.64,95.6 L350.83,96.5 L351.97,97.4 L353.07,98.3 L354.14,99.3 L355.15,100.1 L356.13,101.0 L357.07,101.9 L357.98,102.9 L358.86,103.8 L359.71,104.8 L360.55,105.8 L361.38,106.8 L362.20,107.9 L363.02,108.9 L363.84,109.9 L364.67,110.9 L365.50,111.9 L366.31,112.9 L367.12,113.9 L367.93,114.9 L368.72,115.9 L369.52,117.0 L370.31,118.0 L371.10,119.0 L371.89,120.0 L372.69,121.0 L373.49,122.0 L374.29,123.0 L375.10,124.1 L375.91,125.1 L376.70,126.1 L377.50,127.1 L378.29,128.1 L379.09,129.2 L379.90,130.2 L380.72,131.2 L381.55,132.2 L382.40,133.1 L383.28,134.1 L384.18,135.1 L385.10,136.0 L386.04,136.9 L386.99,137.9 L387.97,138.8 L388.97,139.7 L390.00,140.6 L391.05,141.5 L392.13,142.3 L393.24,143.1 L394.38,143.8 L395.58,144.5 L396.82,145.2 L398.10,145.9 L399.41,146.5 L400.75,147.1 L402.10,147.6 L403.46,148.0 L404.85,148.4 L406.27,148.8 L407.72,149.2 L409.19,149.5 L410.67,149.8 L412.16,150.0 L413.65,150.2 L415.13,150.2 L416.64,150.2 L418.19,150.2 L419.76,150.1 L421.32,150.0 L422.85,149.9 L424.32,149.8 L425.72,149.7 L427.02,149.5 L428.20,149.0 L429.31,148.2 L430.39,147.2 L431.48,146.3 L432.63,145.4 L433.85,144.7 L435.13,144.1 L436.41,143.4 L437.64,142.7 L438.77,142.0 L439.78,141.1 L440.74,140.3 L441.65,139.3 L442.52,138.3 L443.36,137.3 L444.17,136.3 L444.96,135.2 L445.73,134.2 L446.49,133.2 L447.22,132.1 L447.92,131.1 L448.61,130.0 L449.27,128.9 L449.93,127.8 L450.59,126.8 L451.24,125.7 L451.90,124.6 L452.57,123.5 L453.25,122.5 L453.95,121.4 L454.67,120.4 L455.40,119.3 L456.14,118.3 L456.88,117.2 L457.63,116.2 L458.37,115.1 L459.12,114.1 L459.85,113.1 L460.57,112.0 L461.28,111.0 L461.98,109.9 L462.66,108.8 L463.33,107.8 L464.00,106.7 L464.66,105.6 L465.31,104.5 L465.97,103.4 L466.64,102.4 L467.31,101.3 L467.99,100.2 L468.68,99.2 L469.38,98.1 L470.10,97.1 L470.83,96.0 L471.57,95.0 L472.32,93.9 L473.07,92.9 L473.83,91.9 L474.59,90.8 L475.34,89.8 L476.10,88.8 L476.85,87.7 L477.62,86.7 L478.42,85.7 L479.23,84.7 L480.03,83.6 L480.80,82.6 L481.53,81.6 L482.21,80.5 L482.81,79.4 L483.36,78.3 L483.87,77.2 L484.35,76.1 L484.81,74.9 L485.26,73.8 L485.73,72.6 L486.20,71.5 L486.71,70.3 L487.24,69.2 L487.77,68.1 L488.29,67.0 L488.83,65.8 L489.39,64.7 L489.97,63.6 L490.60,62.5 L491.27,61.4 L492.00,60.4 L492.86,59.5 L493.84,58.6 L494.88,57.7 L495.92,56.8 L496.91,55.9 L497.92,55.0 L498.94,54.1 L499.95,53.2 L500.91,52.3 L501.83,51.4 L502.72,50.4 L503.59,49.5 L504.43,48.5 L505.26,47.5 L506.09,46.5 L506.91,45.5 L507.72,44.4 L508.48,43.4 L509.23,42.3 L510.02,41.3 L510.88,40.3 L511.87,39.4 L513.02,38.5 L514.26,37.6 L515.49,37.1 L516.67,37.1 L517.93,37.9 L519.00,39.0 L519.65,40.0 L520.16,41.0 L520.60,42.1 L520.98,43.2 L521.31,44.5 L521.61,45.7 L521.90,46.9 L522.18,48.2 L522.46,49.4 L522.77,50.5 L523.07,51.7 L523.36,52.9 L523.64,54.1 L523.92,55.2 L524.19,56.4 L524.45,57.6 L524.71,58.8 L524.97,60.0 L525.22,61.1 L525.47,62.3 L525.72,63.5 L525.97,64.7 L526.22,65.9 L526.47,67.1 L526.72,68.2 L526.96,69.4 L527.20,70.6 L527.44,71.8 L527.68,73.0 L527.91,74.2 L528.15,75.3 L528.38,76.5 L528.62,77.7 L528.86,78.9 L529.10,80.1 L529.34,81.3 L529.59,82.4 L529.84,83.6 L530.10,84.8 L530.36,86.0 L530.61,87.2 L530.88,88.3 L531.14,89.5 L531.40,90.7 L531.67,91.9 L531.93,93.1 L532.20,94.2 L532.47,95.4 L532.73,96.6 L533.00,97.8 L533.27,98.9 L533.54,100.1 L533.80,101.3 L534.07,102.5 L534.34,103.7 L534.60,104.8 L534.87,106.0 L535.13,107.2 L535.39,108.4 L535.65,109.6 L535.91,110.7 L536.17,111.9 L536.43,113.1 L536.69,114.3 L536.94,115.5 L537.20,116.6 L537.46,117.8 L537.71,119.0 L537.97,120.2 L538.22,121.4 L538.48,122.6 L538.73,123.7 L538.99,124.9 L539.24,126.1 L539.49,127.3 L539.74,128.5 L540.00,129.6 L540.25,130.8 L540.50,132.0 L541.20,130.8 L541.90,129.4 L542.61,127.7 L543.31,125.7 L544.01,123.4 L544.71,120.9 L545.41,118.2 L546.12,115.3 L546.82,112.3 L547.52,109.1 L548.22,105.8 L548.92,102.4 L549.62,99.0 L550.33,95.6 L551.03,92.2 L551.73,88.9 L552.43,85.7 L553.13,82.7 L553.84,79.8 L554.54,77.1 L555.24,74.6 L555.94,72.3 L556.64,70.3 L557.35,68.6 L558.05,67.2 L558.75,66.0 L559.18,67.1 L559.61,68.5 L560.04,70.1 L560.47,72.0 L560.90,74.0 L561.33,76.3 L561.76,78.8 L562.19,81.4 L562.62,84.2 L563.05,87.2 L563.48,90.3 L563.91,93.5 L564.34,96.8 L564.77,100.2 L565.20,103.6 L565.62,107.0 L566.05,110.4 L566.48,113.8 L566.91,117.2 L567.34,120.5 L567.77,123.7 L568.20,126.8 L568.63,129.8 L569.06,132.6 L569.49,135.2 L569.92,137.7 L570.35,140.0 L570.78,142.0 L571.21,143.9 L571.64,145.5 L572.07,146.9 L572.50,148.0 L572.97,146.9 L573.44,145.5 L573.91,143.8 L574.38,141.9 L574.84,139.7 L575.31,137.4 L575.78,134.8 L576.25,132.0 L576.72,129.1 L577.19,126.0 L577.66,122.8 L578.12,119.6 L578.59,116.2 L579.06,112.9 L579.53,109.5 L580.00,106.1 L580.47,102.9 L580.94,99.7 L581.41,96.6 L581.88,93.7 L582.34,90.9 L582.81,88.3 L583.28,86.0 L583.75,83.8 L584.22,81.9 L584.69,80.2 L585.16,78.8 L585.62,77.7 L585.98,78.8 L586.33,80.2 L586.69,81.9 L587.04,83.7 L587.40,85.8 L587.75,88.1 L588.10,90.6 L588.46,93.4 L588.81,96.2 L589.17,99.2 L589.52,102.4 L589.87,105.6 L590.23,108.9 L590.58,112.3 L590.94,115.7 L591.29,119.1 L591.65,122.5 L592.00,125.8 L592.35,129.0 L592.71,132.2 L593.06,135.2 L593.42,138.0 L593.77,140.8 L594.12,143.3 L594.48,145.6 L594.83,147.7 L595.19,149.5 L595.54,151.2 L595.90,152.6 L596.25,153.7 L596.65,152.5 L597.05,151.1 L597.46,149.4 L597.86,147.5 L598.26,145.3 L598.66,142.9 L599.06,140.2 L599.46,137.4 L599.87,134.4 L600.27,131.3 L600.67,128.0 L601.07,124.7 L601.47,121.3 L601.88,117.8 L602.28,114.4 L602.68,111.0 L603.08,107.7 L603.48,104.4 L603.88,101.3 L604.29,98.3 L604.69,95.5 L605.09,92.8 L605.49,90.4 L605.89,88.2 L606.29,86.3 L606.70,84.6 L607.10,83.2 L607.50,82.0 L607.84,83.1 L608.19,84.5 L608.53,86.2 L608.88,88.1 L609.22,90.2 L609.57,92.5 L609.91,95.0 L610.26,97.8 L610.60,100.7 L610.95,103.7 L611.29,106.9 L611.64,110.1 L611.98,113.4 L612.33,116.8 L612.67,120.2 L613.02,123.6 L613.36,126.9 L613.71,130.1 L614.05,133.3 L614.40,136.3 L614.74,139.2 L615.09,142.0 L615.43,144.5 L615.78,146.8 L616.12,148.9 L616.47,150.8 L616.81,152.5 L617.16,153.9 L617.50,155.0 L617.79,153.8 L618.09,152.4 L618.38,150.8 L618.67,148.8 L618.97,146.7 L619.26,144.3 L619.55,141.7 L619.84,138.9 L620.14,136.0 L620.43,132.9 L620.72,129.7 L621.02,126.3 L621.31,123.0 L621.60,119.5 L621.90,116.1 L622.19,112.6 L622.48,109.3 L622.78,105.9 L623.07,102.7 L623.36,99.6 L623.66,96.7 L623.95,93.9 L624.24,91.3 L624.53,88.9 L624.83,86.8 L625.12,84.8 L625.41,83.2 L625.71,81.8 L626.00,80.6 L626.28,81.8 L626.56,83.2 L626.84,84.8 L627.12,86.8 L627.40,88.9 L627.68,91.3 L627.96,93.9 L628.24,96.7 L628.52,99.6 L628.80,102.7 L629.08,105.9 L629.36,109.3 L629.64,112.6 L629.92,116.1 L630.20,119.5 L630.48,123.0 L630.76,126.3 L631.04,129.7 L631.32,132.9 L631.60,136.0 L631.88,138.9 L632.16,141.7 L632.44,144.3 L632.72,146.7 L633.00,148.8 L633.28,150.8 L633.56,152.4 L633.84,153.8 L634.12,155.0 L634.36,153.9 L634.60,152.5 L634.84,150.8 L635.07,149.0 L635.31,146.9 L635.55,144.6 L635.79,142.1 L636.02,139.3 L636.26,136.5 L636.50,133.5 L636.74,130.3 L636.97,127.1 L637.21,123.8 L637.45,120.4 L637.69,117.0 L637.92,113.6 L638.16,110.2 L638.40,106.9 L638.64,103.7 L638.88,100.5 L639.11,97.5 L639.35,94.7 L639.59,91.9 L639.82,89.4 L640.06,87.1 L640.30,85.0 L640.54,83.2 L640.77,81.5 L641.01,80.1 L641.25,79.0 L641.50,80.1 L641.75,81.5 L642.00,83.2 L642.25,85.0 L642.50,87.1 L642.75,89.4 L643.00,91.9 L643.25,94.7 L643.50,97.5 L643.75,100.5 L644.00,103.7 L644.25,106.9 L644.50,110.2 L644.75,113.6 L645.00,117.0 L645.25,120.4 L645.50,123.8 L645.75,127.1 L646.00,130.3 L646.25,133.5 L646.50,136.5 L646.75,139.3 L647.00,142.1 L647.25,144.6 L647.50,146.9 L647.75,149.0 L648.00,150.8 L648.25,152.5 L648.50,153.9 L648.75,155.0 L649.00,153.8 L649.25,152.4 L649.50,150.8 L649.75,148.8 L650.00,146.7 L650.25,144.3 L650.50,141.7 L650.75,138.9 L651.00,136.0 L651.25,132.9 L651.50,129.7 L651.75,126.3 L652.00,123.0 L652.25,119.5 L652.50,116.1 L652.75,112.6 L653.00,109.3 L653.25,105.9 L653.50,102.7 L653.75,99.6 L654.00,96.7 L654.25,93.9 L654.50,91.3 L654.75,88.9 L655.00,86.8 L655.25,84.8 L655.50,83.2 L655.75,81.8 L656.00,80.6 L656.26,81.8 L656.52,83.2 L656.78,84.8 L657.03,86.8 L657.29,88.9 L657.55,91.3 L657.81,93.9 L658.07,96.7 L658.33,99.6 L658.59,102.7 L658.84,105.9 L659.10,109.3 L659.36,112.6 L659.62,116.1 L659.88,119.5 L660.14,123.0 L660.40,126.3 L660.66,129.7 L660.91,132.9 L661.17,136.0 L661.43,138.9 L661.69,141.7 L661.95,144.3 L662.21,146.7 L662.47,148.8 L662.72,150.8 L662.98,152.4 L663.24,153.8 L663.50,155.0 L663.71,153.9 L663.91,152.5 L664.12,150.8 L664.33,148.9 L664.53,146.8 L664.74,144.5 L664.95,142.0 L665.16,139.2 L665.36,136.3 L665.57,133.3 L665.78,130.1 L665.98,126.9 L666.19,123.6 L666.40,120.2 L666.60,116.8 L666.81,113.4 L667.02,110.1 L667.22,106.9 L667.43,103.7 L667.64,100.7 L667.84,97.8 L668.05,95.0 L668.26,92.5 L668.47,90.2 L668.67,88.1 L668.88,86.2 L669.09,84.5 L669.29,83.1 L669.50,82.0 L669.82,83.2 L670.15,84.9 L670.47,87.0 L670.79,89.4 L671.12,92.2 L671.44,95.2 L671.76,98.5 L672.09,101.8 L672.41,105.2 L672.74,108.5 L673.06,111.8 L673.38,114.8 L673.71,117.6 L674.03,120.0 L674.35,122.1 L674.68,123.8 L675.00,125.0"/>
</g>
<g fill="none" stroke="#000" stroke-width="1.7" stroke-linejoin="round" stroke-linecap="round">
<path d="M41.5,56.3 L91.5,56.3"/>
<path d="M76,56.0 L91.5,55.6" stroke-width="1.6"/>
<path d="M41.7,158.2 L42.6,148.9 L92,148.9"/>
<path d="M41.9,158 L42.9,56.5" stroke-width="1.3"/>
</g>
<polygon points="90.6,56 92.7,21.5 93.6,56 93.6,158.6 91.7,158.6 91.7,56" fill="#000"/>
<path d="M100.3,66 L100.6,136" stroke="#000" stroke-width="2.1" fill="none"/>
<polygon points="93,68.5 100,73.5 100,77.5 93,74.5" fill="#000"/>
<polygon points="93,118 99.5,116 99.5,118 93,124.5" fill="#000"/>
<path d="M99,120 L99,135" stroke="#000" stroke-width="0.8" fill="none"/>
<g fill="#fff" stroke="#000" stroke-width="1.85" stroke-linejoin="miter">
<circle cx="56" cy="56.4" r="4.4"/>
<circle cx="103.8" cy="63.4" r="4.4"/>
<circle cx="227.6" cy="52.4" r="4.4"/>
<circle cx="351" cy="64.9" r="4.4"/>
<circle cx="475" cy="222.5" r="4.4"/>
<rect x="61.9" y="144.3" width="9.0" height="9.0"/>
<rect x="99.3" y="136.1" width="9.0" height="9.0"/>
<rect x="223.0" y="131.3" width="9.0" height="9.0"/>
<rect x="346.7" y="137.3" width="9.0" height="9.0"/>
<rect x="469.8" y="134.9" width="9.0" height="9.0"/>
<polygon points="76.8,51.6 71.9,61.0 81.7,61.0"/>
<polygon points="103.8,53.8 100.3,62.0 107.3,62.0"/>
<polygon points="227.7,51.6 222.8,61.0 232.6,61.0"/>
<polygon points="351.0,52.3 346.8,61.0 355.2,61.0"/>
<polygon points="474.3,83.3 469.9,92.3 478.7,92.3"/>
</g>
<polygon fill="#000" stroke="none" points="101.7,105.4 107.9,117.3 114.4,109.8"/><line x1="111.2" y1="113.6" x2="200.5" y2="190.4" stroke="#000" stroke-width="2" stroke-dasharray="4.6,2.3"/>
<polygon fill="#000" stroke="none" points="92.7,143.3 95.8,156.4 104.0,150.7"/><line x1="99.9" y1="153.5" x2="128.0" y2="193.6" stroke="#000" stroke-width="2" stroke-dasharray="4.6,2.3"/>
<polygon fill="#000" stroke="none" points="393.3,64.3 385.9,75.8 394.2,78.0"/><line x1="390.0" y1="76.9" x2="360.3" y2="190.9" stroke="#000" stroke-width="2" stroke-dasharray="4.6,2.3"/>
<g stroke="#000" fill="none">
<path d="M41.6,12.3 L41.6,305.6" stroke-width="1.5"/>
<path d="M41,13 L541,13" stroke-width="1.7"/>
<path d="M540.2,13 L540.2,305" stroke-width="1.5"/>
<path d="M41,304.8 L541,304.8" stroke-width="1.7"/>
<path d="M41.4,300.5 L41.4,308.8" stroke-width="1.6"/>
<path d="M91.2,301.2 L91.2,304" stroke-width="1.5"/>
<path d="M141.1,301.2 L141.1,304" stroke-width="1.5"/>
<path d="M240.8,300.5 L240.8,308.8" stroke-width="1.6"/>
<path d="M290.6,300.5 L290.6,308.8" stroke-width="1.6"/>
<path d="M340.5,300.5 L340.5,308.8" stroke-width="1.6"/>
<path d="M390.3,300.5 L390.3,308.8" stroke-width="1.6"/>
<path d="M440.2,300.5 L440.2,308.8" stroke-width="1.6"/>
<path d="M490.1,300.5 L490.1,308.8" stroke-width="1.6"/>
<path d="M539.9,300.5 L539.9,308.8" stroke-width="1.6"/>
<path d="M34.7,13 L43.4,13" stroke-width="1.6"/>
<path d="M34.7,60.6 L43.4,60.6" stroke-width="1.6"/>
<path d="M34.7,109.2 L43.4,109.2" stroke-width="1.6"/>
<path d="M34.7,158.4 L43.4,158.4" stroke-width="1.6"/>
<path d="M34.7,207 L43.4,207" stroke-width="1.6"/>
<path d="M34.7,255.75 L43.4,255.75" stroke-width="1.6"/>
<path d="M34.7,304.8 L43.4,304.8" stroke-width="1.6"/>
</g>
<g font-family="'Liberation Sans', Arial, sans-serif" font-size="12" fill="#000">
<text transform="translate(41.4,320.5) scale(1,1.07)" text-anchor="middle">0</text>
<text transform="translate(142.0,320.5) scale(1,1.07)" text-anchor="middle">2</text>
<text transform="translate(240.6,320.5) scale(1,1.07)" text-anchor="middle">4</text>
<text transform="translate(340.2,320.5) scale(1,1.07)" text-anchor="middle">6</text>
<text transform="translate(439.8,320.5) scale(1,1.07)" text-anchor="middle">8</text>
<text transform="translate(539.4,320.5) scale(1,1.07)" text-anchor="middle">10</text>
<text transform="translate(34,15.6) scale(1,1.07)" text-anchor="end">3</text>
<text transform="translate(34,63.6) scale(1,1.07)" text-anchor="end">2</text>
<text transform="translate(34,113.5) scale(1,1.07)" text-anchor="end">1</text>
<text transform="translate(34,160.9) scale(1,1.07)" text-anchor="end">0</text>
<text transform="translate(30.7,217.4) scale(1,1.07)" text-anchor="end">1</text>
<text x="27.7" y="201.8" text-anchor="middle" font-size="14">-</text>
<text transform="translate(30.7,266.1) scale(1,1.07)" text-anchor="end">2</text>
<text x="27.7" y="250.6" text-anchor="middle" font-size="14">-</text>
<text transform="translate(30.7,315.2) scale(1,1.07)" text-anchor="end">3</text>
<text x="27.7" y="299.6" text-anchor="middle" font-size="14">-</text>
<text x="19" y="46.4" font-size="11.5">10</text>
<text x="36.1" y="35.6" font-size="9.6">9</text>
</g>
<g font-family="'Liberation Serif', 'Times New Roman', serif" fill="#000">
<text transform="translate(291.7,328.7) scale(1,1.04)" font-size="18" text-anchor="middle">time [sec]</text>
<text transform="translate(363.8,208) scale(1,1.07)" font-size="18" text-anchor="middle">Out-of-step</text>
<text transform="translate(364,229.4) scale(1,1.07)" font-size="18" text-anchor="middle">moment</text>
<text transform="translate(130.2,204) scale(1,1.15)" font-size="13" text-anchor="middle">Fault</text>
<text transform="translate(213.7,186.9) scale(1,1.1)" font-size="13" text-anchor="middle">Fault</text>
<text transform="translate(214.1,203) scale(1,1.12)" font-size="13" text-anchor="middle">clearing</text>
<text transform="translate(17.6,278.8) rotate(-90) scale(1.065,1)" font-size="12.8" stroke="#000" stroke-width="0.25" font-weight="bold">Active Power [W] / Reactive Power [Var]</text>
<rect x="57.6" y="218" width="166.7" height="81.3" fill="#fff" stroke="#000" stroke-width="1.8"/>
<text transform="translate(119.7,237.5) scale(1,1.1)" font-size="13.3" textLength="72" lengthAdjust="spacingAndGlyphs">Active power</text>
<text transform="translate(117.9,263.2) scale(1,1.1)" font-size="13.3" textLength="84.5" lengthAdjust="spacingAndGlyphs">Reactive power</text>
<text transform="translate(118.5,291.0) scale(1,1.1)" font-size="13.3" textLength="98.8" lengthAdjust="spacingAndGlyphs">Mechanical power</text>
</g>
<g fill="#fff" stroke="#000" stroke-width="1.85">
<path d="M67.7,233.4 L108.6,233.4"/>
<path d="M67.7,259.2 L108.6,259.2"/>
<path d="M67.7,286.1 L108.6,286.1"/>
<circle cx="87.8" cy="233.4" r="4.5"/>
<rect x="83.2" y="254.4" width="9.5" height="9.5"/>
<polygon points="87.9,279.4 82.9,289.0 92.9,289.0"/>
</g>
</svg>
</body></html>
